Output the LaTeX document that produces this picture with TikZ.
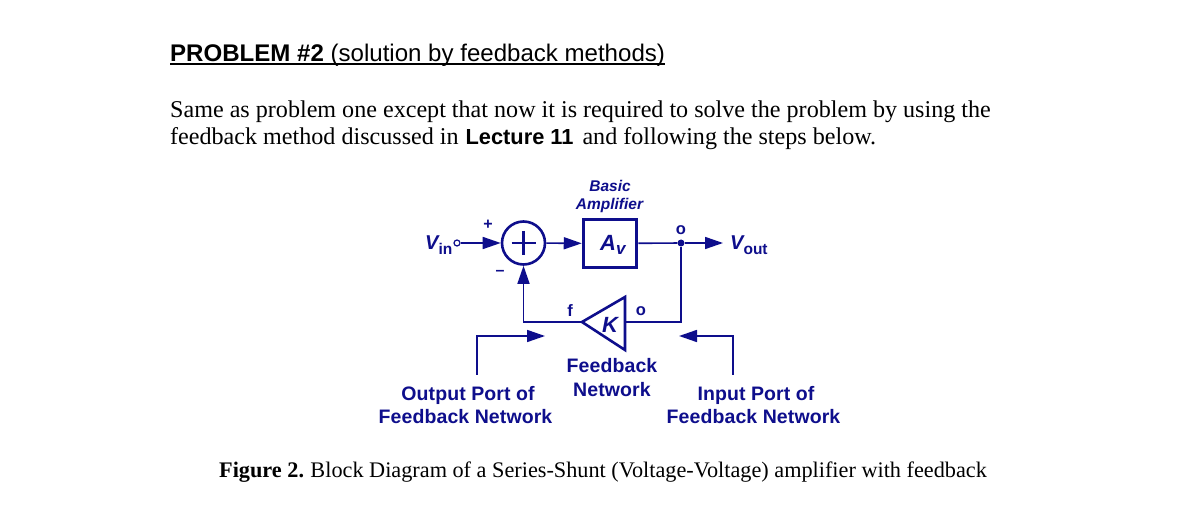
\documentclass[tikz,border=0pt]{standalone}
\usepackage{fontspec}
\setmainfont{Liberation Serif}
\setsansfont{Liberation Sans}
\usetikzlibrary{arrows.meta,shapes.geometric}
\definecolor{navy}{RGB}{14,14,140}
\tikzset{
  x=1pt,y=-1pt,
  wire/.style={draw=navy,line width=1.6pt},
  arr/.style={wire,-{Triangle[length=18pt,width=12pt]}},
  lab/.style={text=navy,inner sep=0pt},
  tiny/.style={lab,font=\sffamily\bfseries\fontsize{16.5}{16.5}\selectfont},
  head/.style={lab,anchor=base,font=\sffamily\bfseries\itshape\fontsize{15.5}{15.5}\selectfont},
  sym/.style={lab,font=\sffamily\bfseries\itshape\fontsize{22}{22}\selectfont},
  port/.style={lab,anchor=base,font=\sffamily\fontsize{19.5}{19.5}\selectfont\addfontfeature{LetterSpace=0.5}\bfseries},
  txt/.style={anchor=base west,inner sep=0pt,text=black},
  body/.style={txt,font=\rmfamily\fontsize{24.1}{24.1}\selectfont},
}
\begin{document}
\begin{tikzpicture}
\useasboundingbox (0,0) rectangle (1202,518);
\fill[white] (0,0) rectangle (1202,518);
\node[txt,font=\sffamily\fontsize{24.06}{24.06}\selectfont] (title) at (170,61.5) {\textbf{PROBLEM \#2} (solution by feedback methods)};
\draw[black,line width=1.5pt] ([yshift=-2.5pt]title.base west) -- ([yshift=-2.5pt]title.base east);
\node[body] (l1) at (170,118) {Same as problem one except that now it is required to solve the problem by using the};
\node[body] (l2) at (170,145) {feedback method discussed in\hspace{1pt} {\sffamily\bfseries\fontsize{21.8}{21.8}\selectfont Lecture 11}\hspace{3pt} and following the steps below.};
\node[txt,font=\rmfamily\fontsize{22.25}{22.25}\selectfont] (cap) at (219,477) {\textbf{Figure 2.}\hspace{-1pt} Block Diagram of a Series-Shunt (Voltage-Voltage) amplifier with feedback};
% blocks
\node[circle,draw=navy,line width=2.6pt,minimum size=43pt,inner sep=0pt] (sum) at (523.5,243) {};
\draw[navy,line width=2.4pt] (sum.center) +(-12,0) -- +(12,0) (sum.center) +(0,-12) -- +(0,12);
\node[rectangle,draw=navy,line width=3.5pt,minimum width=53pt,minimum height=48pt,inner sep=0pt] (amp) at (610,243.5) {};
\node[sym,anchor=base west] (av) at (600,251) {A\raisebox{-3.5pt}{\fontsize{17}{17}\selectfont v}};
\coordinate (tt) at (625,297);
\coordinate (tb) at (625,350);
\coordinate (tip) at (582,322);
\coordinate (tr) at (625,322);
\draw[navy,line width=2.6pt,line join=miter] (tt) -- (tb) -- (tip) -- cycle;
\node[sym] (k) at (610,325) {K};
\node[circle,draw=navy,line width=1.2pt,fill=white,minimum size=6pt,inner sep=0pt] (vi) at (457,243) {};
\node[circle,fill=navy,minimum size=7pt,inner sep=0pt] (j) at (681,243) {};
\coordinate (vo) at (723,243);
\coordinate (corner) at (681,322);
\coordinate (c2) at (523.5,322);
% wires
\draw[arr] (vi) -- (sum);
\draw[arr] (sum) -- (amp);
\draw[wire] (amp) -- (j);
\draw[arr] (j) -- (vo);
\draw[wire] (j) -- (corner) -- (tr);
\draw[arr] (tip) -- (c2) -- (sum);
% port arrows
\coordinate (a1) at (477,375); \coordinate (a2) at (477,336); \coordinate (a3) at (545,336);
\coordinate (b1) at (733,375); \coordinate (b2) at (733,336); \coordinate (b3) at (679,336);
\draw[arr] (a1) -- (a2) -- (a3);
\draw[arr] (b1) -- (b2) -- (b3);
% labels
\node[head] (basic) at (610,192) {Basic};
\node[head] (ampl) at (609.5,210) {Amplifier};
\node[tiny,font=\sffamily\bfseries\fontsize{16}{16}\selectfont] (plus) at (488,225) {+};
\node[tiny,font=\sffamily\bfseries\fontsize{16}{16}\selectfont] (minus) at (500,273) {\textendash};
\node[tiny] (o1) at (681,230) {o};
\node[tiny] (f) at (570,311) {f};
\node[tiny] (o2) at (641,311) {o};
\node[lab,anchor=base west,font=\sffamily\bfseries\itshape\fontsize{20}{20}\selectfont] (vin) at (425,250) {V\raisebox{-5pt}{\upshape\fontsize{15.5}{15.5}\selectfont in}};
\node[lab,anchor=base west,font=\sffamily\bfseries\itshape\fontsize{20}{20}\selectfont] (vout) at (730,250) {V\raisebox{-5pt}{\upshape\fontsize{15.5}{15.5}\selectfont out}};
\node[port] (fb1) at (612,373) {Feedback};
\node[port] (fb2) at (612,397) {Network};
\node[port] (op1) at (468,400) {Output Port of};
\node[port] (op2) at (465.5,423) {Feedback Network};
\node[port] (ip1) at (756,400) {Input Port of};
\node[port] (ip2) at (753.5,423) {Feedback Network};
\end{tikzpicture}
\end{document}
